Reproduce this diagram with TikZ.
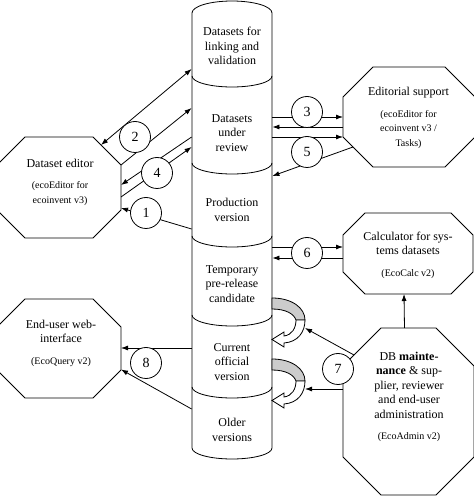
\documentclass[tikz,border=0pt]{standalone}
\usepackage{fontspec}
\setmainfont{Liberation Serif}
\usetikzlibrary{shapes,arrows,arrows.meta,calc}
\newcommand{\smalltext}{\fontsize{10}{14.5}\selectfont}
% octagon frame: name, x, y, width, height, corner cut
\newcommand{\octbox}[6]{
  \node[OctFrame, minimum width=#4pt, minimum height=#5pt] (#1) at (#2,#3) {};
  \draw ([xshift=#6pt]#1.north west) -- ([xshift=-#6pt]#1.north east)
    -- ([yshift=-#6pt]#1.north east) -- ([yshift=#6pt]#1.south east)
    -- ([xshift=-#6pt]#1.south east) -- ([xshift=#6pt]#1.south west)
    -- ([yshift=#6pt]#1.south west) -- ([yshift=-#6pt]#1.north west) -- cycle;
}
% curled arrow round the cylinder: name of its outer point, top corner
\newcommand{\curlarrow}[2]{
  \begin{scope}[shift={#2}, yscale=-1]
    \filldraw[fill=gray!40] (0,0) .. controls (20,0) and (33,10) .. (33,22)
      -- (24,22) .. controls (22,16) and (14,11) .. (0,11) -- cycle;
    \filldraw[fill=white] (33,22) .. controls (33,34) and (26,44) .. (12,45)
      -- (12,49) -- (0,41.5) -- (12,34) -- (12,38)
      .. controls (20,37) and (24,30) .. (24,22) -- cycle;
    \coordinate (#1) at (33,30);
  \end{scope}
}
\tikzstyle{Segment}=[minimum width=80pt, inner sep=0pt, align=center,
  font=\fontsize{12}{14.5}\selectfont]
\tikzstyle{OctFrame}=[inner sep=0pt, outer sep=0pt]
\tikzstyle{OctText}=[inner sep=0pt, align=center, font=\fontsize{12}{14.5}\selectfont]
\tikzstyle{Num}=[circle, draw, fill=white, minimum size=31pt, inner sep=0pt,
  font=\fontsize{14}{14}\selectfont]

\begin{document}
\begin{tikzpicture}[x=1pt, y=1pt, line width=0.8pt, >={Latex[length=7pt,width=5pt]}]
	\useasboundingbox (0,0) rectangle (474,496);
	% database cylinder
	\draw (192,483) -- (192,48) arc (180:360:40pt and 11pt) -- (272,483) arc (0:180:40pt and 12pt);
	\foreach \y in {420,333,260,181,109}
		\draw (192,\y) arc (180:360:40pt and 11pt);
	\node[Segment] (s1) at (232,450) {Datasets for\\linking and\\validation};
	\node[Segment] (s2) at (232,363) {Datasets\\under\\review};
	\node[Segment] (s3) at (232,286) {Production\\version};
	\node[Segment] (s4) at (232,212) {Temporary\\pre-release\\candidate};
	\node[Segment] (s5) at (232,134) {Current\\official\\version};
	\node[Segment] (s6) at (232,66) {Older\\versions};
	% tools
	\octbox{ed}{59}{308.5}{124}{101}{28}
	\node[OctText] (edt) at (60,314) {Dataset editor\\[7pt]\smalltext (ecoEditor for\\\smalltext ecoinvent v3)};
	\octbox{es}{409}{379}{132}{100}{30}
	\node[OctText] (est) at (408.5,378) {Editorial support\\[7pt]\smalltext (ecoEditor for\\\smalltext ecoinvent v3 /\\\smalltext Tasks)};
	\octbox{cal}{408}{242.5}{130}{81}{22}
	\node[OctText] (calt) at (408,241) {Calculator for sys-\\tems datasets\\[7pt]\smalltext (EcoCalc v2)};
	\octbox{eu}{59}{147.5}{124}{99}{28}
	\node[OctText] (eut) at (61,153) {End-user web-\\interface\\[7pt]\smalltext (EcoQuery v2)};
	\octbox{db}{408.5}{84.5}{131}{167}{38}
	\node[OctText] (dbt) at (409,99) {DB \textbf{mainte-}\\\textbf{nance} \& sup-\\plier, reviewer\\and end-user\\administration\\[7pt]\smalltext (EcoAdmin v2)};
	% release steps
	\curlarrow{cA}{(272,198)}
	\curlarrow{cB}{(272,137)}
	% flows
	\draw[<->] ($(ed.north east)+(-20,-8)$) -- ($(s1.west)+(0,-23)$);
	\draw[->] ($(ed.north east)+(0,-28)$) -- ($(s2.west)+(0,25)$);
	\draw[->] ($(s2.west)+(0,-4)$) -- ($(ed.east)+(0,2.5)$);
	\draw[->] ($(ed.east)+(0,-9.5)$) -- ($(s2.west)+(0,-14)$);
	\draw[->] ($(s3.west)+(0,-19)$) -- ($(ed.east)+(0,-20.5)$);
	\draw[->] ($(s2.east)+(0,16)$) -- (es.west);
	\draw[->] ($(es.west)+(0,-10)$) -- ($(s2.east)+(0,6)$);
	\draw[->] ($(s2.east)+(0,-4)$) -- ($(es.west)+(0,-20)$);
	\draw[->] ($(es.south west)+(10,20)$) -- ($(s3.east)+(0,34)$);
	\draw[->] ($(s4.east)+(0,37)$) -- ($(cal.west)+(0,6.5)$);
	\draw[->] ($(cal.west)+(0,-4.5)$) -- ($(s4.east)+(0,26)$);
	\draw[->] ($(db.north)+(-4,0)$) -- ($(cal.south)+(-4,0)$);
	\draw[->] ($(db.north west)+(11,-27)$) -- (cA);
	\draw[->] ($(db.west)+(0,22.5)$) -- (cB);
	\draw[->] ($(s5.west)+(0,14)$) -- ($(eu.east)+(0,0.5)$);
	\draw[->] ($(s6.west)+(0,21)$) -- ($(eu.east)+(0,-21)$);
	% step numbers
	\node[Num] (n1) at (146,283) {1};
	\node[Num] (n2) at (135,359) {2};
	\node[Num] (n3) at (307,384) {3};
	\node[Num] (n4) at (157,323) {4};
	\node[Num] (n5) at (307,344) {5};
	\node[Num] (n6) at (307,243) {6};
	\node[Num] (n7) at (338,127) {7};
	\node[Num] (n8) at (146,133) {8};
\end{tikzpicture}
\end{document}
